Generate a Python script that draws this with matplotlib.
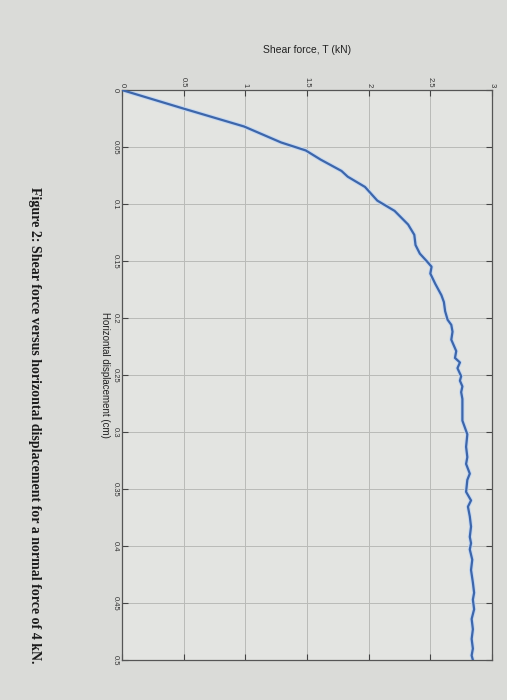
import matplotlib
matplotlib.use("Agg")
import matplotlib.pyplot as plt

# readings: horizontal displacement (cm) and shear force (kN)
displacement = [0.0, 0.016, 0.032, 0.046, 0.053, 0.061, 0.071, 0.076, 0.085, 0.097,
                0.106, 0.118, 0.127, 0.136, 0.1435, 0.150, 0.155, 0.161, 0.170, 0.180,
                0.186, 0.194, 0.2015, 0.206, 0.212, 0.219, 0.229, 0.235, 0.239, 0.244,
                0.251, 0.255, 0.260, 0.265, 0.271, 0.281, 0.290, 0.302, 0.313, 0.322,
                0.328, 0.3365, 0.342, 0.3525, 0.360, 0.3655, 0.374, 0.383, 0.392, 0.3975,
                0.403, 0.412, 0.421, 0.432, 0.441, 0.447, 0.4555, 0.464, 0.473, 0.4815,
                0.490, 0.496, 0.500]
shear = [0.0, 0.49, 0.99, 1.29, 1.49, 1.61, 1.78, 1.83, 1.97, 2.07,
         2.21, 2.32, 2.37, 2.38, 2.415, 2.47, 2.51, 2.50, 2.54, 2.59,
         2.61, 2.62, 2.64, 2.67, 2.68, 2.67, 2.71, 2.70, 2.74, 2.72,
         2.75, 2.74, 2.76, 2.75, 2.76, 2.76, 2.76, 2.80, 2.79, 2.80,
         2.79, 2.82, 2.80, 2.79, 2.83, 2.805, 2.82, 2.83, 2.82, 2.83,
         2.82, 2.84, 2.83, 2.845, 2.855, 2.845, 2.855, 2.835, 2.845, 2.835,
         2.845, 2.835, 2.845]

shear_ticks = [0, 0.5, 1, 1.5, 2, 2.5, 3]
shear_labels = ["0", "0.5", "1", "1.5", "2", "2.5", "3"]
disp_ticks = [0, 0.05, 0.1, 0.15, 0.2, 0.25, 0.3, 0.35, 0.4, 0.45, 0.5]
disp_labels = ["0", "0.05", "0.1", "0.15", "0.2", "0.25", "0.3", "0.35", "0.4", "0.45", "0.5"]

plt.rcParams["font.family"] = ["Liberation Sans", "DejaVu Sans"]

fig = plt.figure(figsize=(5.07, 7.0), dpi=100, facecolor="#dadbd8")
# the photographed page is turned a quarter turn: shear runs across, displacement runs down
ax = fig.add_axes([0.2406, 0.0571, 0.7298, 0.8143], facecolor="#e3e4e1")

ax.plot(shear, displacement, color="#c3d7f2", lw=3.0, solid_joinstyle="round",
        solid_capstyle="round", zorder=2)
ax.plot(shear, displacement, color="#3d66aa", lw=1.6, solid_joinstyle="round",
        solid_capstyle="round", zorder=3)

ax.set_xlim(0, 3)
ax.set_ylim(0.5, 0)
ax.xaxis.tick_top()
ax.set_xticks(shear_ticks)
ax.set_xticklabels(shear_labels, rotation=-90, fontsize=5.5, color="#333333")
ax.set_yticks(disp_ticks)
ax.set_yticklabels(disp_labels, rotation=-90, fontsize=5.5, color="#333333", va="center")
ax.tick_params(direction="in", length=4, width=0.8, color="#444444", pad=2,
               top=True, bottom=True, left=True, right=True)
ax.grid(True, color="#b9bab7", lw=0.7)
ax.set_axisbelow(True)
for s in ax.spines.values():
    s.set_color("#555555")
    s.set_linewidth(0.9)

ax.set_ylabel("Horizontal displacement (cm)", rotation=-90, fontsize=7, color="#222222")
ax.yaxis.set_label_coords(-0.06, 0.5)

fig.text(0.605, 0.928, "Shear force, T (kN)", ha="center", va="center",
         fontsize=7.5, color="#222222")

fig.text(0.069, 0.393,
         "Figure 2: Shear force versus horizontal displacement for a normal force of 4 kN.",
         rotation=-90, ha="center", va="center", fontsize=10, fontweight="bold",
         family=["Liberation Serif", "DejaVu Serif"], color="#1a1a1a")

fig.savefig("out.png", dpi=100, facecolor=fig.get_facecolor())
